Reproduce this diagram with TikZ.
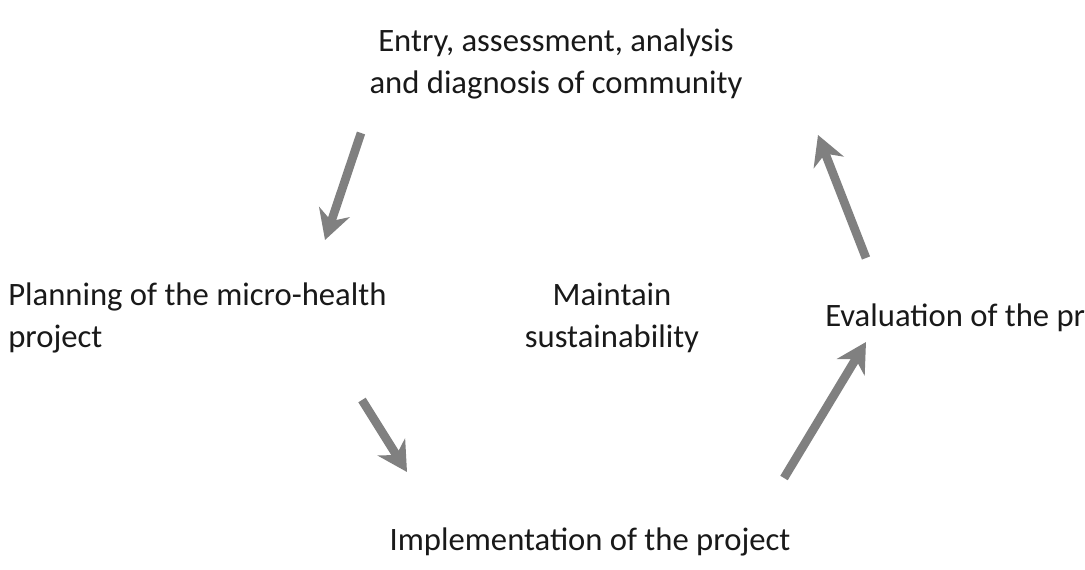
\documentclass[tikz,border=0pt]{standalone}
\usepackage{fontspec}
\setmainfont{Carlito}
\usetikzlibrary{arrows.meta}
\begin{document}
\begin{tikzpicture}[x=0.75pt,y=-0.75pt,
  lbl/.style={font=\fontsize{24.5}{32}\selectfont, inner sep=0pt, text=black!90},
  arr/.style={draw=black!50, line width=6.5pt, -{Stealth[length=22pt,width=24pt,inset=7pt]}}]
\useasboundingbox (0,0) rectangle (1085,570);
\clip (0,0) rectangle (1085,570);
\fill[white] (0,0) rectangle (1085,570);
\node[lbl, align=center] (entry) at (556,64) {Entry, assessment, analysis\\and diagnosis of community};
\node[lbl, align=left, anchor=west] (plan) at (8,318) {Planning of the micro-health\\project};
\node[lbl, align=center] (maint) at (612,318) {Maintain\\sustainability};
\node[lbl, anchor=west] (eval) at (825,318) {Evaluation of the project};
\node[lbl] (impl) at (590,542) {Implementation of the project};
\coordinate (a1s) at (361,133); \coordinate (a1e) at (325,240);
\coordinate (a2s) at (362,400); \coordinate (a2e) at (407,472);
\coordinate (a3s) at (784,478); \coordinate (a3e) at (866,342);
\coordinate (a4s) at (866,258); \coordinate (a4e) at (818,135);
\draw[arr] (a1s) -- (a1e);
\draw[arr] (a2s) -- (a2e);
\draw[arr] (a3s) -- (a3e);
\draw[arr] (a4s) -- (a4e);
\end{tikzpicture}
\end{document}
